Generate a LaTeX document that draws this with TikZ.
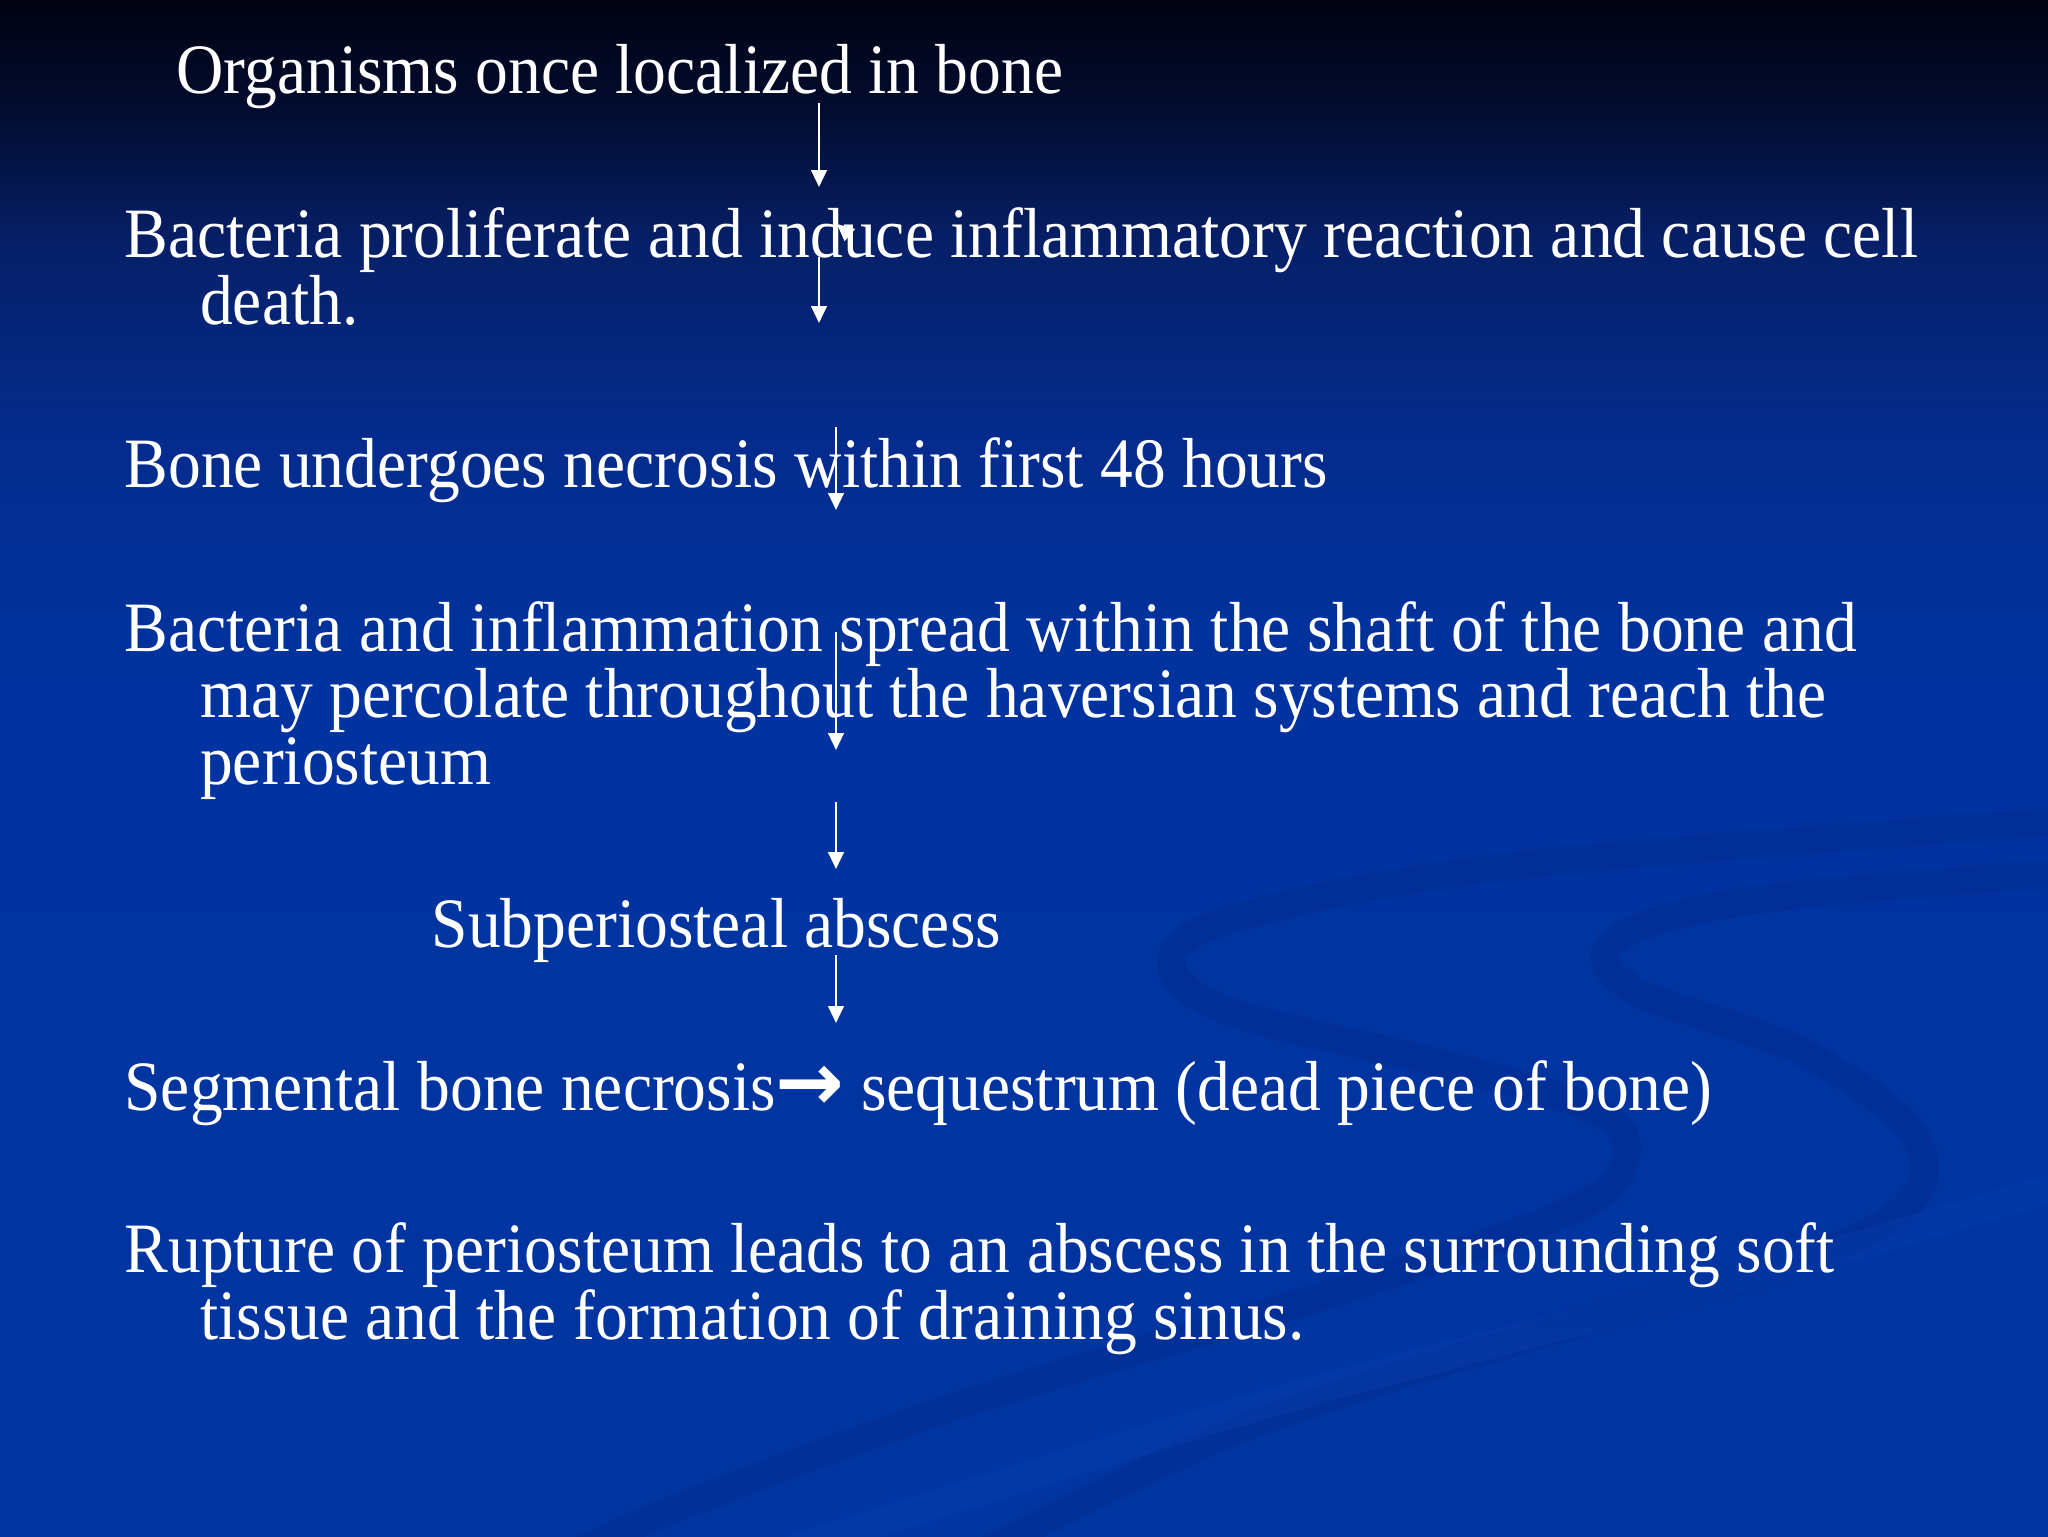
\documentclass[tikz,border=0pt]{standalone}
\usepackage{fontspec}
\setmainfont{Liberation Serif}[FakeStretch=0.925]
\newfontfamily\arrowfont{DejaVu Sans}
\usetikzlibrary{arrows.meta}

\definecolor{bgtop}{HTML}{010312}
\definecolor{bgdark}{HTML}{030B2C}
\definecolor{bgmid}{HTML}{06206A}
\definecolor{bgupper}{HTML}{042C8E}
\definecolor{bgblue}{HTML}{0033A0}
\definecolor{bgbot}{HTML}{0035A2}
\definecolor{swirl}{HTML}{00298A}
\definecolor{swirllight}{HTML}{0A3DAE}

% stops between 25bp and 75bp fill the shaded path
\pgfdeclareverticalshading{slidebg}{100bp}{color(0bp)=(bgbot); color(25bp)=(bgbot); color(52.2bp)=(bgblue);
  color(60.35bp)=(bgupper); color(66.85bp)=(bgmid); color(71.75bp)=(bgdark); color(75bp)=(bgtop); color(100bp)=(bgtop)}

\begin{document}
\begin{tikzpicture}[
		x=0.0124023cm, y=-0.0124023cm,
		slide/.style={font=\fontsize{25}{23.4}\selectfont, text=white, anchor=base west, inner sep=0pt, align=left},
		flow/.style={white, line width=0.9pt, -{Triangle[length=6pt, width=5.5pt]}},
		swoosh/.style={swirl, line width=10pt, line cap=round, opacity=0.4},
		]
		
		% === BACKGROUND ===
		\useasboundingbox (0,0) rectangle (2048,1536);
		\shade[shading=slidebg] (0,0) rectangle (2048,1536);
		
		% faint swirls, lower right
		\begin{scope}
			\clip (0,0) rectangle (2048,1536);
			\draw[swoosh] plot[smooth, tension=0.6] coordinates {(2080,820) (1523,865) (1246,915) (1172,960) (1228,1011) (1431,1061) (1597,1111) (1625,1161) (1569,1211) (1339,1291) (969,1402) (692,1502) (560,1560)};
			\draw[swoosh] plot[smooth, tension=0.6] coordinates {(2080,872) (1754,900) (1616,940) (1634,990) (1800,1051) (1911,1131) (1911,1201) (1800,1261) (1569,1326) (1246,1427) (969,1560)};
			\draw[swoosh, swirllight] plot[smooth, tension=0.6] coordinates {(2080,1180) (1700,1290) (1246,1410) (760,1560)};
		\end{scope}
		
		% === STEPS ===
		% (multi-line nodes sit on the baseline of their last line)
		\node[slide] (organisms) at (176,94) {Organisms once localized in bone};
		\node[slide] (proliferate) at (124,324) {Bacteria proliferate and induce inflammatory reaction and cause cell\\\hspace*{26.7pt}death.};
		\node[slide] (necrosis) at (124,487) {Bone undergoes necrosis within first 48 hours};
		\node[slide] (spread) at (124,784) {Bacteria and inflammation spread within the shaft of the bone and\\\hspace*{26.7pt}may percolate throughout the haversian systems and reach the\\\hspace*{26.7pt}periosteum};
		\node[slide] (abscess) at (431,947) {Subperiosteal abscess};
		\node[slide] (sequestrum) at (124,1110) {Segmental bone necrosis{\arrowfont\bfseries\fontsize{29}{29}\selectfont →} sequestrum (dead piece of bone)};
		\node[slide] (rupture) at (124,1339) {Rupture of periosteum leads to an abscess in the surrounding soft\\\hspace*{26.7pt}tissue and the formation of draining sinus.};
		
		% === ARROWS ===
		\foreach \n/\x/\ya/\yb in {1/819/103/187, 2/819/257/323, 3/836/427/510,
			4/836/632/750, 5/836/802/869, 6/836/955/1023} {
			\coordinate (top\n) at (\x,\ya);
			\coordinate (tip\n) at (\x,\yb);
			\draw[flow] (top\n) -- (tip\n);
		}
		
		% stray arrowhead inside "induce"
		\coordinate (straytail) at (852,237);
		\coordinate (straytip) at (837,224);
		\draw[flow] (straytail) -- (straytip);
		
	\end{tikzpicture}
\end{document}
